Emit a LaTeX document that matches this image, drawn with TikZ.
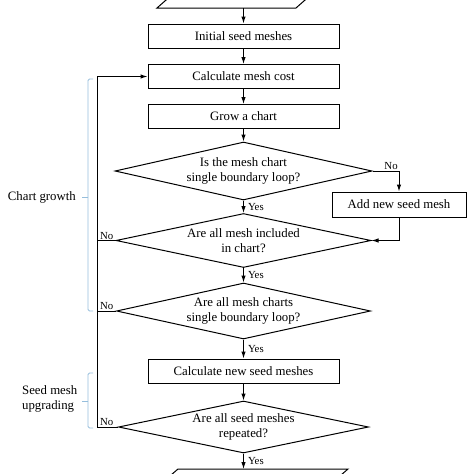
\documentclass[tikz,border=0pt]{standalone}
\usepackage{fontspec}
\setmainfont{Liberation Serif}
\usetikzlibrary{shapes.geometric,arrows.meta}
\definecolor{bracecol}{RGB}{150,190,220}
\tikzset{
  every picture/.style={x=1pt,y=-1pt},
  line/.style={line width=1pt,draw=black},
  arr/.style={line/.try,-{Latex[length=7pt,width=4.5pt]}},
  box/.style={draw,line width=1pt,rectangle,minimum width=191pt,minimum height=24pt,inner sep=0pt,font=\fontsize{12.8}{15}\selectfont},
  decide/.style={draw,line width=1pt,diamond,aspect=4.5,inner sep=0pt,align=center,font=\fontsize{12.8}{15}\selectfont},
  lbl/.style={font=\fontsize{10.8}{12}\selectfont,inner sep=1pt},
  side/.style={font=\fontsize{12.8}{15}\selectfont,align=left,inner sep=0pt},
  bracket/.style={draw=bracecol,line width=0.8pt,rounded corners=1.5pt},
}
\begin{document}
\begin{tikzpicture}
\useasboundingbox (0,0) rectangle (474,474);
\clip (0,0) rectangle (474,474);
% top input (cut off)
\draw[line width=1pt] (157,8) -- (296,8) -- (330,-22) -- (191,-22) -- cycle;
\coordinate (inb) at (243.5,8);
% boxes
\node[box] (b1) at (243.5,36) {Initial seed meshes};
\node[box] (b2) at (243.5,76.5) {Calculate mesh cost};
\node[box] (b3) at (243.5,116.5) {Grow a chart};
\node[decide,minimum width=257pt,minimum height=58pt] (d1) at (243.5,171) {Is the mesh chart\\single boundary loop?};
\node[box,minimum width=134pt,minimum height=25pt] (add) at (399,204.5) {Add new seed mesh};
\node[decide,minimum width=255pt,minimum height=54pt] (d2) at (243.5,240.5) {Are all mesh included\\in chart?};
\node[decide,minimum width=254pt,minimum height=56pt] (d3) at (243.5,311) {Are all mesh charts\\single boundary loop?};
\node[box] (b4) at (243.5,371) {Calculate new seed meshes};
\node[decide,minimum width=250pt,minimum height=52pt] (d4) at (243.5,427) {Are all seed meshes\\repeated?};
% bottom output (cut off)
\draw[line width=1pt] (178,469) -- (348,469) -- (312,500) -- (142,500) -- cycle;
\coordinate (outt) at (243.5,469);
% main flow
\draw[arr] (inb) -- (b1);
\draw[arr] (b1) -- (b2);
\draw[arr] (b2) -- (b3);
\draw[arr] (b3) -- (d1);
\draw[arr] (d1.south) -- node[lbl,anchor=west,xshift=3pt]{Yes} (d2.north);
\draw[arr] (d2.south) -- node[lbl,anchor=west,xshift=3pt]{Yes} (d3.north);
\draw[arr] (d3.south) -- node[lbl,anchor=west,xshift=3pt]{Yes} (b4);
\draw[arr] (b4) -- (d4);
\draw[arr] (d4.south) -- node[lbl,anchor=west,xshift=3pt]{Yes} (outt);
% side branch
\draw[arr] (d1.east) -| node[lbl,pos=0.35,anchor=south]{No} (add.north);
\draw[arr] (add.south) |- (d2.east);
% feedback
\coordinate (fb) at (97,427);
\draw[arr] (d4.west) -- (fb) |- (b2.west);
\draw[line] (d2.west) -- (97,240.5);
\draw[line] (d3.west) -- (97,311);
\node[lbl,anchor=south west] (n2) at (99,240.5) {No};
\node[lbl,anchor=south west] (n3) at (99,311) {No};
\node[lbl,anchor=south west] (n4) at (99,427) {No};
% brackets
\draw[bracket] (93,79) -| (88,197);
\draw[bracket] (88,197) |- (93,311);
\draw[draw=bracecol,line width=0.8pt] (88,197) -- (82,197);
\node[side,anchor=east] (cg) at (76,197) {Chart growth};
\draw[bracket] (93,373) -| (88,401);
\draw[bracket] (88,401) |- (93,428);
\draw[draw=bracecol,line width=0.8pt] (88,401) -- (82,401);
\node[side,anchor=west] (smu) at (22,399) {Seed mesh\\upgrading};
\end{tikzpicture}
\end{document}
